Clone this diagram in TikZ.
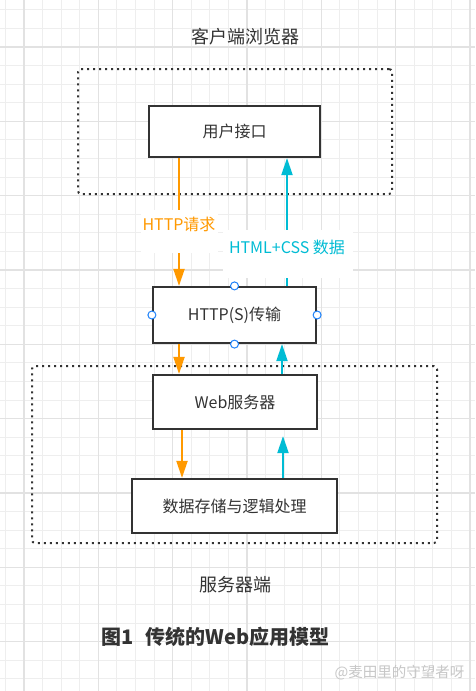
\documentclass[tikz,border=0pt]{standalone}
\usepackage{fontspec}
\setmainfont{Noto Sans CJK SC}
\usepackage{tikz}
\usetikzlibrary{arrows.meta}
\usetikzlibrary{calc}
\definecolor{textgray}{RGB}{51,51,51}
\definecolor{reqorange}{RGB}{255,153,0}
\definecolor{respcyan}{RGB}{0,188,212}
\definecolor{gridminor}{RGB}{238,238,238}
\definecolor{gridmajor}{RGB}{226,226,226}
\definecolor{handleblue}{RGB}{30,130,250}
\tikzstyle{box} = [rectangle, draw=textgray, line width=2.2pt, fill=white, text=textgray, font=\fontsize{16}{19}\selectfont, text centered]
\tikzstyle{container} = [rectangle, rounded corners=3pt, draw=textgray, line width=2pt, dash pattern=on 2pt off 4pt]
\tikzstyle{title} = [text=textgray, font=\fontsize{18}{21}\selectfont]
\tikzstyle{reqarrow} = [draw=reqorange, line width=2pt, -{Triangle[length=17pt,width=11pt]}]
\tikzstyle{resparrow} = [draw=respcyan, line width=2pt, -{Triangle[length=17pt,width=11pt]}]
\tikzstyle{labelbg} = [rectangle, fill=white, inner sep=0pt]
\tikzstyle{handle} = [circle, draw=handleblue, fill=white, line width=1pt, minimum size=8pt, inner sep=0pt]

\begin{document}
\begin{tikzpicture}[x=1pt, y=-1pt]
        \useasboundingbox (0,0) rectangle (475,691);
        \fill[white] (0,0) rectangle (475,691);

        % background grid
        \foreach \k in {0,...,25}{
                \draw[gridminor, line width=1pt] (5.42+18.58*\k, 0) -- ++(0, 691);
            }
        \foreach \k in {0,...,36}{
                \draw[gridminor, line width=1pt] (0, 9.9+18.58*\k) -- ++(475, 0);
            }
        \foreach \k in {1,5,...,25}{
                \draw[gridmajor, line width=1.4pt] (5.42+18.58*\k, 0) -- ++(0, 691);
            }
        \foreach \k in {2,6,...,34}{
                \draw[gridmajor, line width=1.4pt] (0, 9.9+18.58*\k) -- ++(475, 0);
            }

        \node (clienttitle) at (245, 37) [title] {客户端浏览器};
        \node (client) at (235, 131.5) [container, minimum width=314pt, minimum height=125pt] {};
        \node (server) at (234.5, 454.5) [container, minimum width=405pt, minimum height=177pt] {};
        \node (servertitle) at (235, 585) [title] {服务器端};

        \node (ui) at (234.5, 131.5) [box, minimum width=171pt, minimum height=51pt] {用户接口};
        \node (http) at (234.5, 315) [box, minimum width=163pt, minimum height=56pt] {HTTP(S)传输};
        \node (web) at (235, 402) [box, minimum width=164pt, minimum height=54pt] {Web服务器};
        \node (data) at (234.5, 506) [box, minimum width=205pt, minimum height=54pt] {数据存储与逻辑处理};

        \draw[reqarrow] ([xshift=-55.5pt]ui.south) -- ([xshift=-55.5pt]http.north);
        \draw[resparrow] ([xshift=52.5pt]http.north) -- ([xshift=52.5pt]ui.south);
        \draw[reqarrow] ([xshift=-55.5pt]http.south) -- ([xshift=-56pt]web.north);
        \draw[resparrow] ([xshift=47pt]web.north) -- ([xshift=47.5pt]http.south);
        \draw[reqarrow] ([xshift=-53pt]web.south) -- ([xshift=-52.5pt]data.north);
        \draw[resparrow, shorten >=6pt] ([xshift=48.5pt]data.north) -- ([xshift=48pt]web.south);

        \node (reqbg) at (179.5, 231.5) [labelbg, minimum width=77pt, minimum height=43pt] {};
        \node (req) at (179, 224) [text=reqorange, font=\fontsize{16}{19}\selectfont] {HTTP请求};
        \node (respbg) at (288, 254) [labelbg, minimum width=130pt, minimum height=48pt] {};
        \node (resp) at (287, 247) [text=respcyan, font=\fontsize{16}{19}\selectfont] {HTML+CSS 数据};

        \foreach \a in {north, west, east, south}{
                \node at (http.\a) [handle] {};
            }

        \node (caption) at (215.5, 637) [text=textgray, font=\fontsize{20}{24}\selectfont\bfseries] {图1\hspace{0.6em}传统的Web应用模型};
        \node (mark) at (399.5, 673) [text=black!22, font=\fontsize{14.5}{17}\selectfont] {@麦田里的守望者呀};
    \end{tikzpicture}
\end{document}
